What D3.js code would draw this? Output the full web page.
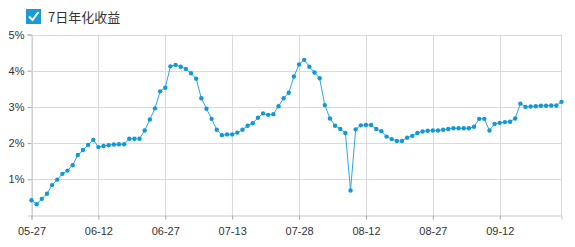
<!DOCTYPE html>
<html><head><meta charset="utf-8">
<script src="https://cdn.jsdelivr.net/npm/d3@7/dist/d3.min.js"></script>
<style>
html,body{margin:0;padding:0;background:#fff;}
svg{display:block;font-family:"Liberation Sans",Arial,sans-serif;}
</style></head>
<body><svg id="c" width="575" height="247"></svg>
<script>
const seriesName = "7日年化收益";
const categories = [
"05-27","05-28","05-29","05-30","05-31","06-01","06-03","06-04","06-05","06-06","06-08","06-09","06-10",
"06-12","06-13","06-14","06-15","06-17","06-18","06-19","06-20","06-21","06-22","06-24","06-25","06-26",
"06-27","06-28","06-29","07-01","07-02","07-03","07-04","07-06","07-07","07-08","07-09","07-11","07-12",
"07-13","07-14","07-15","07-16","07-17","07-19","07-20","07-21","07-22","07-23","07-24","07-26","07-27",
"07-28","07-29","07-30","07-31","08-01","08-02","08-04","08-05","08-06","08-07","08-08","08-09","08-11",
"08-12","08-13","08-14","08-15","08-16","08-18","08-19","08-20","08-21","08-22","08-23","08-25","08-26",
"08-27","08-28","08-29","08-30","09-01","09-02","09-03","09-04","09-06","09-07","09-08","09-10","09-11",
"09-12","09-13","09-14","09-15","09-16","09-17","09-18","09-19","09-20","09-21","09-22","09-23","09-24"
];
const values = [
0.42,0.31,0.46,0.60,0.84,0.99,1.15,1.24,1.39,1.67,1.81,1.95,2.09,
1.89,1.92,1.94,1.96,1.97,1.97,2.12,2.12,2.12,2.35,2.65,2.96,3.43,
3.53,4.12,4.16,4.11,4.05,3.93,3.78,3.24,2.95,2.67,2.37,2.22,2.24,
2.24,2.29,2.37,2.48,2.55,2.70,2.82,2.78,2.80,3.02,3.24,3.39,3.84,
4.17,4.30,4.11,3.95,3.79,3.05,2.68,2.48,2.39,2.28,0.69,2.38,2.49,
2.50,2.50,2.39,2.33,2.18,2.11,2.06,2.06,2.15,2.20,2.28,2.32,2.34,
2.35,2.35,2.37,2.39,2.41,2.41,2.41,2.41,2.45,2.67,2.67,2.35,2.53,
2.56,2.58,2.59,2.68,3.09,3.00,3.01,3.02,3.03,3.03,3.04,3.04,3.14
];
const xTickLabels = ["05-27","06-12","06-27","07-13","07-28","08-12","08-27","09-12"];
const yTicks = [1,2,3,4,5];

const svg = d3.select("#c");
const L = 31.5, R = 561.5, T = 34.5, B = 215.5;
const x = d3.scalePoint().domain(categories).range([L, R]);
const y = d3.scaleLinear().domain([0, 5]).range([B, T]);
const gridCol = "#dcd8de";

svg.append("g").selectAll("line").data(yTicks).join("line")
  .attr("x1", L).attr("x2", R)
  .attr("y1", d => Math.round(y(d)) + 0.5).attr("y2", d => Math.round(y(d)) + 0.5)
  .attr("stroke", gridCol).attr("stroke-width", 1);
svg.append("g").selectAll("line").data(xTickLabels).join("line")
  .attr("x1", d => Math.round(x(d)) + 0.5).attr("x2", d => Math.round(x(d)) + 0.5)
  .attr("y1", T).attr("y2", B)
  .attr("stroke", gridCol).attr("stroke-width", 1);
svg.append("line").attr("x1", R).attr("x2", R).attr("y1", T).attr("y2", B)
  .attr("stroke", gridCol);

const yAxis = d3.axisLeft(y).tickValues(yTicks).tickSize(4).tickPadding(3)
  .tickFormat(d => d + "%");
const gy = svg.append("g").attr("transform", `translate(${L},0)`).call(yAxis);
gy.select(".domain").attr("stroke", "#c8c8d0");
gy.selectAll(".tick line").attr("stroke", "#98a8c0");
gy.selectAll(".tick text").attr("fill", "#333").attr("font-size", 11)
  .attr("font-family", "Liberation Sans, Arial, sans-serif");

const xAxis = d3.axisBottom(x).tickValues(xTickLabels).tickSize(4).tickPadding(8);
const gx = svg.append("g").attr("transform", `translate(0,${B})`).call(xAxis);
gx.select(".domain").attr("stroke", "#c8c8d0");
gx.selectAll(".tick line").attr("stroke", "#98a8c0");
gx.selectAll(".tick text").attr("fill", "#333").attr("font-size", 11)
  .attr("font-family", "Liberation Sans, Arial, sans-serif");

const data = categories.map((c, i) => ({c, v: values[i]}));
svg.append("path").datum(data)
  .attr("fill", "none").attr("stroke", "#2ea6de").attr("stroke-width", 1)
  .attr("d", d3.line().x(d => x(d.c)).y(d => y(d.v)));
svg.append("g").selectAll("circle").data(data).join("circle")
  .attr("cx", d => x(d.c)).attr("cy", d => y(d.v)).attr("r", 2.2)
  .attr("fill", "#1198d6");

const lg = svg.append("g").attr("transform", "translate(26,9)");
lg.append("rect").attr("width", 15).attr("height", 15).attr("fill", "#1a9ad6");
lg.append("path").attr("d", "M3,7.5 L6.5,11 L12.5,3").attr("fill", "none")
  .attr("stroke", "#fff").attr("stroke-width", 2);
lg.append("text").attr("x", 22).attr("y", 12.5).attr("font-size", 13)
  .attr("fill", "#333").attr("font-family", "Noto Sans CJK SC, sans-serif")
  .text(seriesName);
</script></body></html>
